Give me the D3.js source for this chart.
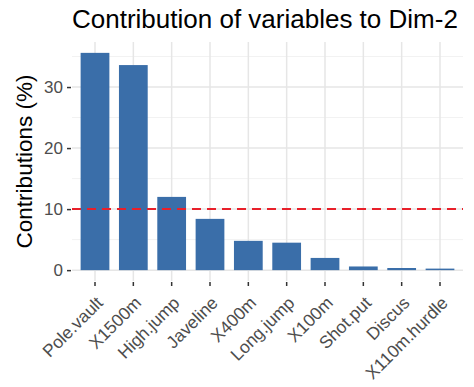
<!DOCTYPE html>
<html lang="en">
<head>
  <meta charset="UTF-8">
  <title>Contribution of variables to Dim-2</title>
  <style>
    body { margin: 0; background: white; }
    text { font-family: "Liberation Sans", Arial, sans-serif; }
  </style>
</head>
<body>
  <svg id="svg" width="474" height="387"></svg>
  <script src="https://d3js.org/d3.v7.min.js"></script>
  <script>
    const variables = ['Pole.vault', 'X1500m', 'High.jump', 'Javeline', 'X400m',
      'Long.jump', 'X100m', 'Shot.put', 'Discus', 'X110m.hurdle']
    const contributions = [35.6, 33.6, 12.0, 8.4, 4.8, 4.5, 2.0, 0.6, 0.35, 0.25]
    const yTicks = [0, 10, 20, 30]
    const yMinor = [5, 15, 25, 35]
    const refLine = 10

    const data = variables.map((v, i) => ({ name: v, value: contributions[i] }))

    const pLeft = 72, pRight = 463, pTop = 42, pBottom = 281
    const maxV = d3.max(contributions)
    const pad = maxV * 0.05

    const n = variables.length
    const step = (pRight - pLeft) / (n + 0.2)
    const xScale = d3.scaleBand()
      .domain(variables)
      .range([pLeft + 0.1 * step, pRight - 0.1 * step])
      .paddingInner(0.25)
      .paddingOuter(0.125)
    const xCenter = d => xScale(d) + xScale.bandwidth() / 2

    const yScale = d3.scaleLinear()
      .domain([-pad, maxV + pad])
      .range([pBottom, pTop])

    const svg = d3.select('#svg')

    // grid
    const grid = svg.append('g')
    grid.selectAll('.minor')
      .data(yMinor)
      .enter()
      .append('line')
      .attr('x1', pLeft).attr('x2', pRight)
      .attr('y1', d => yScale(d)).attr('y2', d => yScale(d))
      .attr('stroke', '#f2f2f2')
      .attr('stroke-width', 1)
    grid.selectAll('.major')
      .data(yTicks)
      .enter()
      .append('line')
      .attr('x1', pLeft).attr('x2', pRight)
      .attr('y1', d => yScale(d)).attr('y2', d => yScale(d))
      .attr('stroke', '#e6e6e6')
      .attr('stroke-width', 1.5)
    grid.selectAll('.vert')
      .data(variables)
      .enter()
      .append('line')
      .attr('x1', d => xCenter(d)).attr('x2', d => xCenter(d))
      .attr('y1', pTop).attr('y2', pBottom)
      .attr('stroke', '#e6e6e6')
      .attr('stroke-width', 1.5)

    // bars
    svg.selectAll('rect')
      .data(data)
      .enter()
      .append('rect')
      .attr('x', d => xScale(d.name))
      .attr('width', xScale.bandwidth())
      .attr('y', d => yScale(d.value))
      .attr('height', d => yScale(0) - yScale(d.value))
      .attr('fill', '#3a6ea9')

    // reference line
    svg.append('line')
      .attr('x1', pLeft).attr('x2', pRight)
      .attr('y1', yScale(refLine)).attr('y2', yScale(refLine))
      .attr('stroke', '#e8202a')
      .attr('stroke-width', 2)
      .attr('stroke-dasharray', '9,6')

    // axes
    const leftAxis = d3.axisLeft(yScale).tickValues(yTicks).tickSize(4).tickPadding(4)
    const yAxis = svg.append('g')
      .attr('transform', `translate(${pLeft - 1}, 0)`)
      .call(leftAxis)
    yAxis.select('.domain').remove()
    yAxis.selectAll('.tick line').attr('stroke', '#333').attr('stroke-width', 1.5)
    yAxis.selectAll('.tick text')
      .style('font-family', '"Liberation Sans", Arial, sans-serif')
      .style('font-size', '17px')
      .attr('fill', '#4d4d4d')

    const bottomAxis = d3.axisBottom(xScale).tickSize(4).tickPadding(3)
    const xAxis = svg.append('g')
      .attr('transform', `translate(0, ${pBottom + 1})`)
      .call(bottomAxis)
    xAxis.select('.domain').remove()
    xAxis.selectAll('.tick line').attr('stroke', '#333').attr('stroke-width', 1.5)
    xAxis.selectAll('.tick text')
      .style('font-family', '"Liberation Sans", Arial, sans-serif')
      .style('font-size', '17.5px')
      .attr('fill', '#4d4d4d')
      .attr('text-anchor', 'end')
      .attr('y', 0)
      .attr('dy', '0')
      .attr('transform', 'translate(9, 22) rotate(-45)')

    // titles
    svg.append('text')
      .attr('x', pLeft)
      .attr('y', 28)
      .style('font-size', '26px')
      .attr('fill', 'black')
      .text('Contribution of variables to Dim-2')

    svg.append('text')
      .attr('transform', `translate(32, ${(pTop + pBottom) / 2}) rotate(-90)`)
      .attr('text-anchor', 'middle')
      .style('font-size', '22.5px')
      .attr('fill', 'black')
      .text('Contributions (%)')
  </script>
</body>
</html>
